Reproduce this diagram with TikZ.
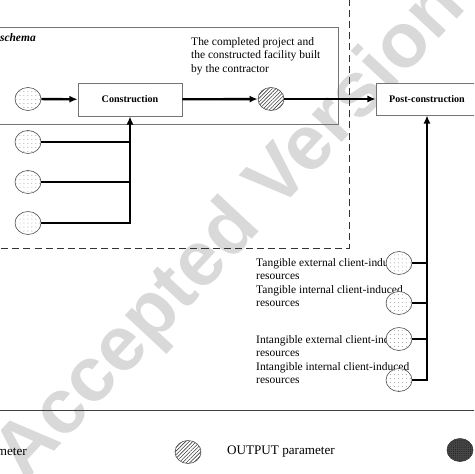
\documentclass[tikz,border=0pt]{standalone}
\usepackage{fontspec}
\setmainfont{Liberation Serif}
\newfontfamily\wmfont{Liberation Sans}
\usetikzlibrary{shapes.geometric,arrows.meta,patterns.meta}

\begin{document}
\begin{tikzpicture}[x=0.03cm,y=-0.03cm,
    param/.style={ellipse,draw=black!70,line width=0.5pt,minimum width=0.78cm,minimum height=0.69cm,inner sep=0pt,preaction={fill=white}},
    inparam/.style={param,pattern={Dots[distance=3.4pt,radius=0.35pt]},pattern color=black!55},
    outparam/.style={param,pattern={Lines[angle=45,distance=2.2pt,line width=0.5pt]},pattern color=black!75},
    darkparam/.style={ellipse,draw=black!80,line width=0.5pt,minimum width=0.78cm,minimum height=0.69cm,inner sep=0pt,preaction={fill=black!72},pattern={Dots[distance=1.6pt,radius=0.4pt]},pattern color=black!90},
    stagebox/.style={rectangle,draw=black!55,line width=0.6pt,fill=white,font=\fontsize{8.6}{10}\selectfont\bfseries},
    flow/.style={line width=2pt,-{Latex[length=7pt,width=6pt]}},
    feed/.style={line width=2pt},
    note/.style={align=left,font=\fontsize{9.8}{11.5}\selectfont,inner sep=0pt}]

        \useasboundingbox (0,0) rectangle (474,474);
        \clip (0,0) rectangle (474,474);

        % watermark
        \node[rotate=47,text=black!15,font=\wmfont\bfseries\fontsize{66}{70}\selectfont] (wm) at (232,232) {Accepted Version};

        % frames
        \draw[black!55,line width=0.8pt] (-10,27) rectangle (338,124);
        \draw[black!80,line width=0.7pt,dash pattern=on 6pt off 3.5pt] (-10,248) -- (349,248) -- (349,-10);
        \draw[black!75,line width=0.8pt] (-10,410) -- (484,410);

        % texts
        \node[note,anchor=east] (sch) at (36,38) {\textbf{\textit{schema}}};
        \node[note,anchor=north west] (done) at (191,37) {The completed project and\\the constructed facility built\\by the contractor};
        \node[note,anchor=north west] (t1) at (256,258) {Tangible external client-induced\\resources};
        \node[note,anchor=north west] (t2) at (256,285) {Tangible internal client-induced\\resources};
        \node[note,anchor=north west] (t3) at (256,335) {Intangible external client-induced\\resources};
        \node[note,anchor=north west] (t4) at (256,362) {Intangible internal client-induced\\resources};

        % stages
        \node[stagebox,minimum width=3.12cm,minimum height=0.99cm] (cons) at (130,99.5) {Construction};
        \node[stagebox,minimum width=3.06cm,minimum height=0.96cm] (post) at (427,99) {Post-construction};

        \begin{scope}[every node/.style={inparam}]
          \node (i0) at (28,99)  {};
          \node (i1) at (28,142) {};
          \node (i2) at (28,182) {};
          \node (i3) at (28,223) {};
          \node (r1) at (399,263) {};
          \node (r2) at (399,303) {};
          \node (r3) at (399,339) {};
          \node (r4) at (399,380) {};
        \end{scope}
        \node[outparam] (out) at (271,99) {};

        % connectors
        \path (i0)  edge[flow] (cons);
        \path (cons) edge[flow] (out);
        \path (out) edge[flow] (post);
        \draw[feed] (i1) -- (i1 -| cons);
        \draw[feed] (i2) -- (i2 -| cons);
        \draw[flow] (i3) -| (cons);
        \draw[feed] (r1) -- (r1 -| post);
        \draw[feed] (r2) -- (r2 -| post);
        \draw[feed] (r3) -- (r3 -| post);
        \draw[flow] (r4) -| (post);

        % legend
        \node[anchor=east,font=\fontsize{11.2}{13}\selectfont,inner sep=0pt] (lin) at (27,452) {meter};
        \node[outparam] (lout) at (188,452) {};
        \node[anchor=west,font=\fontsize{11.2}{13}\selectfont,inner sep=0pt] (lout text) at (227,452) {OUTPUT parameter};
        \node[darkparam] (ldark) at (460,450) {};

      \end{tikzpicture}
\end{document}
